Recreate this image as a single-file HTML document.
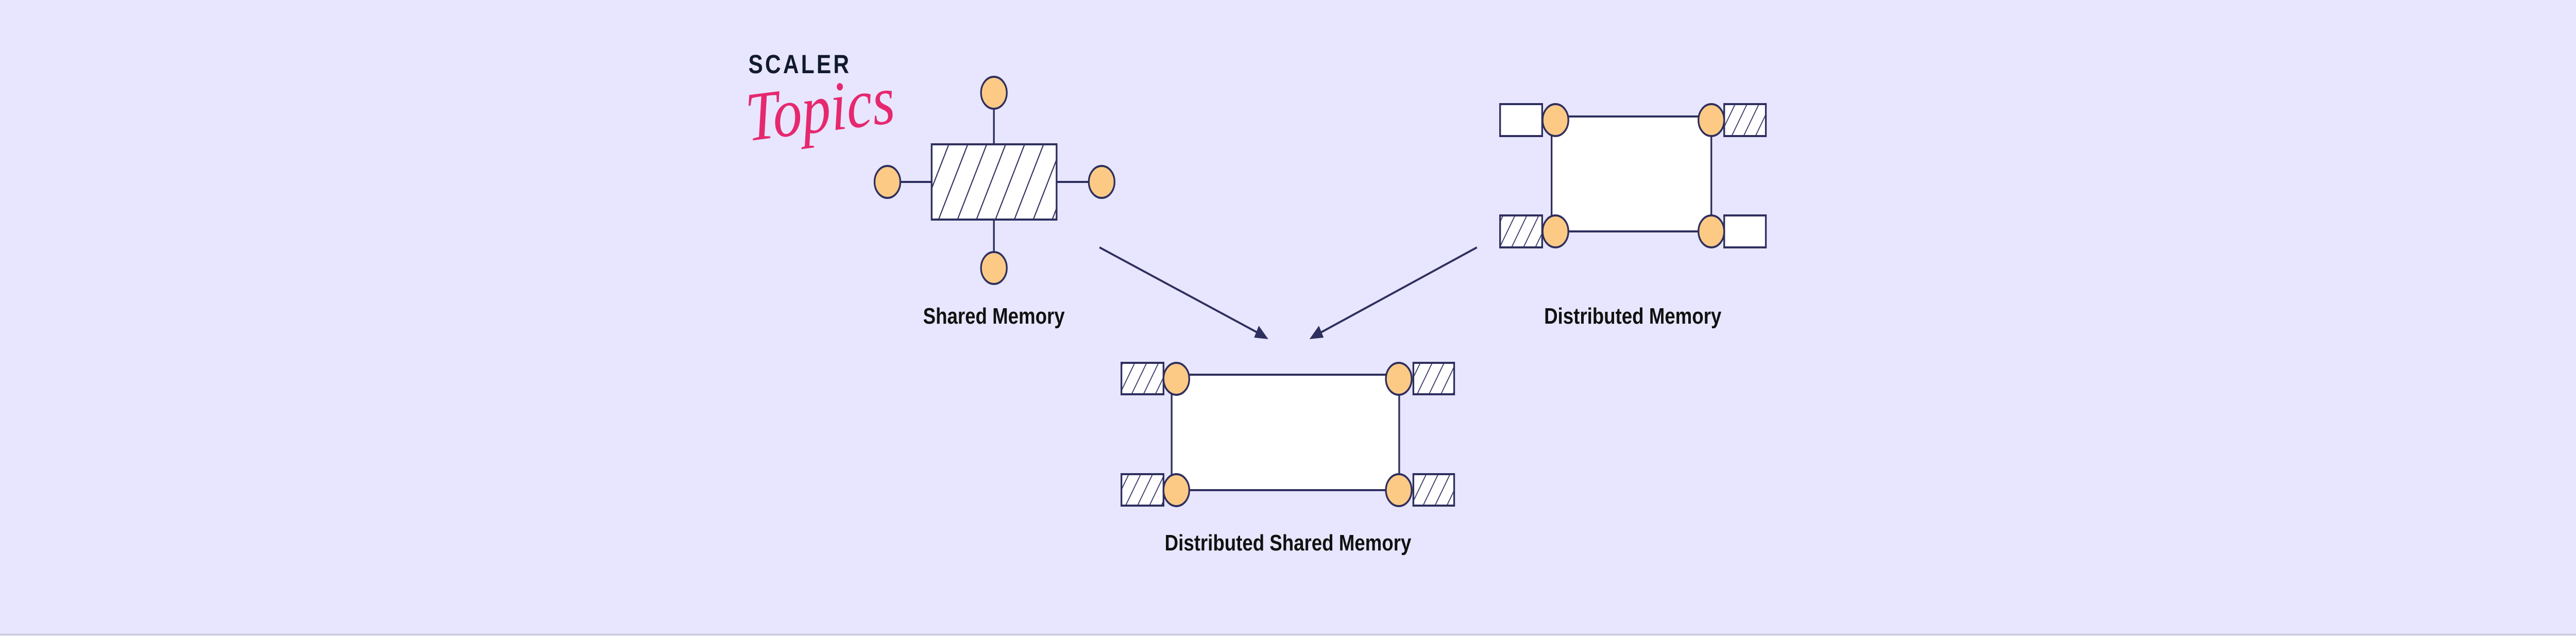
<!DOCTYPE html>
<html><head><meta charset="utf-8"><style>
html,body{margin:0;padding:0;background:#e7e6fe;width:100%;height:100%;overflow:hidden;}
svg{display:block;width:100vw;height:100vh;}
</style></head><body>
<svg xmlns="http://www.w3.org/2000/svg" viewBox="0 0 6000 1234" preserveAspectRatio="none">
<defs>
<pattern id="h1" patternUnits="userSpaceOnUse" width="40" height="40" patternTransform="rotate(25)">
<rect width="40" height="40" fill="#fff"/><line x1="0" y1="0" x2="0" y2="40" stroke="#2f2f5f" stroke-width="5"/>
</pattern>
<pattern id="h2" patternUnits="userSpaceOnUse" width="24" height="24" patternTransform="rotate(30)">
<rect width="24" height="24" fill="#fff"/><line x1="0" y1="0" x2="0" y2="24" stroke="#2f2f5f" stroke-width="4"/>
</pattern>
</defs>
<rect width="6000" height="1234" fill="#e7e6fe"/>
<line x1="0" y1="1231" x2="6000" y2="1231" stroke="#c9c8d8" stroke-width="3"/>
<text x="1743" y="142" font-family="Liberation Sans, sans-serif" font-weight="bold" font-size="51" fill="#121a2e" letter-spacing="5">SCALER</text>
<text x="1738" y="262" font-family="Liberation Serif, serif" font-style="italic" font-size="135" fill="#e6286f" transform="rotate(-6 1850 230)">Topics</text>

<g stroke="#2f2f5f" stroke-width="4">
<line x1="2315" y1="180" x2="2315" y2="520"/>
<line x1="2067" y1="353" x2="2566" y2="353"/>
<rect x="2170" y="280" width="291" height="146" fill="url(#h1)"/>
<ellipse cx="2315" cy="180" rx="30" ry="31" fill="#fdca86"/>
<ellipse cx="2315" cy="520" rx="30" ry="31" fill="#fdca86"/>
<ellipse cx="2067" cy="353" rx="30" ry="31" fill="#fdca86"/>
<ellipse cx="2566" cy="353" rx="30" ry="31" fill="#fdca86"/>

<rect x="3614" y="226" width="372" height="223" fill="#fff"/>
<rect x="3494" y="202" width="98" height="62" fill="#fff"/>
<rect x="4016" y="202" width="97" height="62" fill="url(#h2)"/>
<rect x="3494" y="418" width="98" height="62" fill="url(#h2)"/>
<rect x="4016" y="418" width="97" height="62" fill="#fff"/>
<ellipse cx="3623" cy="233" rx="30" ry="31" fill="#fdca86"/>
<ellipse cx="3986" cy="233" rx="30" ry="31" fill="#fdca86"/>
<ellipse cx="3623" cy="449" rx="30" ry="31" fill="#fdca86"/>
<ellipse cx="3986" cy="449" rx="30" ry="31" fill="#fdca86"/>

<rect x="2729" y="727" width="530" height="224" fill="#fff"/>
<rect x="2612" y="704" width="98" height="61" fill="url(#h2)"/>
<rect x="3292" y="704" width="95" height="61" fill="url(#h2)"/>
<rect x="2612" y="920" width="98" height="61" fill="url(#h2)"/>
<rect x="3292" y="920" width="95" height="61" fill="url(#h2)"/>
<ellipse cx="2740" cy="735" rx="30" ry="31" fill="#fdca86"/>
<ellipse cx="3258" cy="735" rx="30" ry="31" fill="#fdca86"/>
<ellipse cx="2740" cy="951" rx="30" ry="31" fill="#fdca86"/>
<ellipse cx="3258" cy="951" rx="30" ry="31" fill="#fdca86"/>

<line x1="2561" y1="480" x2="2935" y2="648"/>
<line x1="3440" y1="480" x2="3070" y2="648"/>
</g>
<polygon points="2954,658 2921,655 2932,632" fill="#2f2f5f"/>
<polygon points="3050,658 3072,632 3083,655" fill="#2f2f5f"/>

<g font-family="Liberation Sans, sans-serif" font-weight="bold" font-size="44" fill="#111" text-anchor="middle">
<text x="2315" y="628">Shared Memory</text>
<text x="3803" y="628">Distributed Memory</text>
<text x="3000" y="1068">Distributed Shared Memory</text>
</g>
</svg>
</body></html>
